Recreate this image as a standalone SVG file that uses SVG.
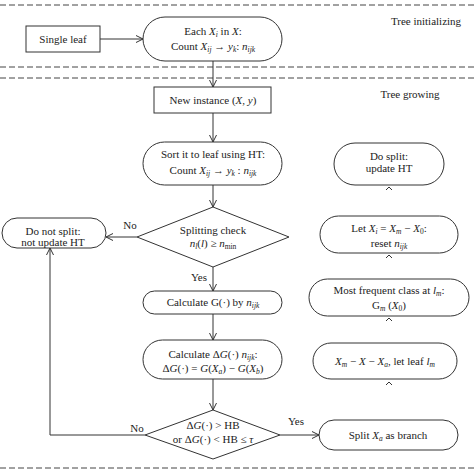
<svg xmlns="http://www.w3.org/2000/svg" width="474" height="474" viewBox="0 0 474 474" font-family="'Liberation Serif', 'Times New Roman', serif">
<defs>
<marker id="arr" markerWidth="8" markerHeight="8" refX="7" refY="4" orient="auto" markerUnits="userSpaceOnUse">
<path d="M0,0.5 L7,4 L0,7.5" fill="none" stroke="#333" stroke-width="1"/>
</marker>
<style>
.b{fill:#fff;stroke:#333;stroke-width:1}
.l{fill:none;stroke:#333;stroke-width:1}
.d{fill:none;stroke:#444;stroke-width:1;stroke-dasharray:6,3}
text{font-family:'Liberation Serif','Times New Roman',serif;font-size:11px;fill:#222;text-anchor:middle}
.i{font-style:italic}
.s{font-size:7.5px}
</style>
</defs>
<rect width="474" height="474" fill="#fff"/>
<g id="dividers">
<line class="d" x1="0" y1="5" x2="474" y2="5"/>
<line class="d" x1="0" y1="67" x2="474" y2="67"/>
<line class="d" x1="0" y1="78" x2="474" y2="78"/>
<line class="d" x1="0" y1="468" x2="474" y2="468"/>
<text x="426" y="25">Tree initializing</text>
<text x="410" y="98">Tree growing</text>
</g>
<g id="single-leaf">
<rect class="b" x="26" y="26" width="74" height="26"/>
<text x="63" y="43">Single leaf</text>
</g>
<g id="each-xi">
<rect class="b" x="143" y="17" width="139" height="44" rx="22"/>
<text x="213" y="35">Each <tspan class="i">X</tspan><tspan class="i s" dy="2">i</tspan><tspan dy="-2"> in </tspan><tspan class="i">X</tspan>:</text>
<text x="213" y="50">Count <tspan class="i">X</tspan><tspan class="i s" dy="2">ij</tspan><tspan dy="-2"> → </tspan><tspan class="i">y</tspan><tspan class="i s" dy="2">k</tspan><tspan dy="-2">: </tspan><tspan class="i">n</tspan><tspan class="i s" dy="2">ijk</tspan></text>
</g>
<g id="new-instance">
<rect class="b" x="154" y="87" width="117" height="26"/>
<text x="213" y="104">New instance (<tspan class="i">X</tspan>, <tspan class="i">y</tspan>)</text>
</g>
<g id="sort-leaf">
<rect class="b" x="143" y="142" width="139" height="43" rx="21.5"/>
<text x="213" y="158">Sort it to leaf using HT:</text>
<text x="213" y="174">Count <tspan class="i">X</tspan><tspan class="i s" dy="2">ij</tspan><tspan dy="-2"> → </tspan><tspan class="i">y</tspan><tspan class="i s" dy="2">k</tspan><tspan dy="-2"> : </tspan><tspan class="i">n</tspan><tspan class="i s" dy="2">ijk</tspan></text>
</g>
<g id="splitting-check">
<polygon class="b" points="213,207 289,237 213,267 137,237"/>
<text x="213" y="234">Splitting check</text>
<text x="213" y="247"><tspan class="i">n</tspan><tspan class="i s" dy="2">l</tspan><tspan dy="-2">(</tspan><tspan class="i">l</tspan>) ≥ <tspan class="i">n</tspan><tspan class="s" dy="2">min</tspan></text>
</g>
<g id="do-not-split">
<rect class="b" x="2" y="218" width="104" height="30" rx="15"/>
<text x="53" y="235">Do not split:</text>
<text x="53" y="246">not update HT</text>
</g>
<g id="calc-g">
<rect class="b" x="143" y="291" width="139" height="23" rx="11.5"/>
<text x="213" y="306">Calculate G(·) by <tspan class="i">n</tspan><tspan class="i s" dy="2">ijk</tspan></text>
</g>
<g id="calc-dg">
<rect class="b" x="143" y="340" width="139" height="39" rx="19.5"/>
<text x="213" y="358">Calculate Δ<tspan class="i">G</tspan>(·) <tspan class="i">n</tspan><tspan class="i s" dy="2">ijk</tspan><tspan dy="-2">:</tspan></text>
<text x="213" y="372">Δ<tspan class="i">G</tspan>(·) = <tspan class="i">G</tspan>(<tspan class="i">X</tspan><tspan class="i s" dy="2">a</tspan><tspan dy="-2">) − </tspan><tspan class="i">G</tspan>(<tspan class="i">X</tspan><tspan class="i s" dy="2">b</tspan><tspan dy="-2">)</tspan></text>
</g>
<g id="hb-check">
<polygon class="b" points="213,410 280,435 213,459 145,435"/>
<text x="213" y="429">Δ<tspan class="i">G</tspan>(·) &gt; HB</text>
<text x="213" y="443">or Δ<tspan class="i">G</tspan>(·) &lt; HB ≤ <tspan class="i">τ</tspan></text>
</g>
<g id="split-xa">
<rect class="b" x="319" y="420" width="139" height="30" rx="15"/>
<text x="388" y="439">Split <tspan class="i">X</tspan><tspan class="i s" dy="2">a</tspan><tspan dy="-2"> as branch</tspan></text>
</g>
<g id="xm-leaf">
<rect class="b" x="313" y="343" width="144" height="36" rx="18"/>
<text x="385" y="365"><tspan class="i">X</tspan><tspan class="i s" dy="2">m</tspan><tspan dy="-2"> − </tspan><tspan class="i">X</tspan> − <tspan class="i">X</tspan><tspan class="i s" dy="2">a</tspan><tspan dy="-2">, let leaf </tspan><tspan class="i">l</tspan><tspan class="i s" dy="2">m</tspan></text>
</g>
<g id="most-frequent">
<rect class="b" x="309" y="279" width="160" height="37" rx="18.5"/>
<text x="389" y="294">Most frequent class at <tspan class="i">l</tspan><tspan class="i s" dy="2">m</tspan><tspan dy="-2">:</tspan></text>
<text x="389" y="309">G<tspan class="i s" dy="2">m</tspan><tspan dy="-2"> (</tspan><tspan class="i">X</tspan><tspan class="s" dy="2">0</tspan><tspan dy="-2">)</tspan></text>
</g>
<g id="let-xi">
<rect class="b" x="320" y="216" width="138" height="37" rx="18.5"/>
<text x="389" y="232">Let <tspan class="i">X</tspan><tspan class="i s" dy="2">i</tspan><tspan dy="-2"> = </tspan><tspan class="i">X</tspan><tspan class="i s" dy="2">m</tspan><tspan dy="-2"> − </tspan><tspan class="i">X</tspan><tspan class="s" dy="2">0</tspan><tspan dy="-2">:</tspan></text>
<text x="389" y="247">reset <tspan class="i">n</tspan><tspan class="i s" dy="2">ijk</tspan></text>
</g>
<g id="do-split">
<rect class="b" x="334" y="143" width="110" height="42" rx="21"/>
<text x="389" y="160">Do split:</text>
<text x="389" y="172">update HT</text>
</g>
<g id="connectors">
<line class="l" x1="100" y1="39" x2="143" y2="39" marker-end="url(#arr)"/>
<line class="l" x1="213" y1="61" x2="213" y2="87" marker-end="url(#arr)"/>
<line class="l" x1="213" y1="113" x2="213" y2="142" marker-end="url(#arr)"/>
<line class="l" x1="213" y1="185" x2="213" y2="207" marker-end="url(#arr)"/>
<line class="l" x1="137" y1="237" x2="106" y2="237" marker-end="url(#arr)"/>
<text x="130" y="229">No</text>
<line class="l" x1="213" y1="267" x2="213" y2="291" marker-end="url(#arr)"/>
<text x="199" y="281">Yes</text>
<line class="l" x1="213" y1="314" x2="213" y2="340" marker-end="url(#arr)"/>
<line class="l" x1="213" y1="379" x2="213" y2="410" marker-end="url(#arr)"/>
<polyline class="l" points="145,435 50,435 50,248" marker-end="url(#arr)"/>
<text x="137" y="432">No</text>
<line class="l" x1="280" y1="435" x2="319" y2="435" marker-end="url(#arr)"/>
<text x="296" y="425">Yes</text>
<polyline class="l" points="386,190 389,187 392,190"/>
<polyline class="l" points="386,258 389,255 392,258"/>
<polyline class="l" points="386,321 389,318 392,321"/>
<polyline class="l" points="386,385 389,382 392,385"/>
</g>
</svg>
